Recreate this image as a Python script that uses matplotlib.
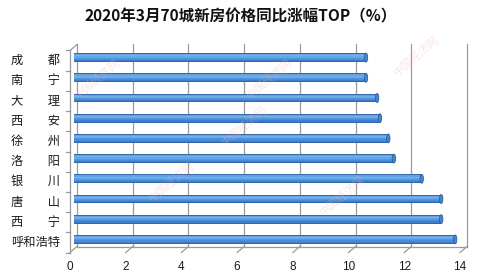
import matplotlib
matplotlib.use("Agg")
import matplotlib.pyplot as plt
import matplotlib.transforms as mtransforms
from matplotlib.patches import Ellipse
import numpy as np

plt.rcParams['font.family'] = ['Noto Sans CJK SC', 'DejaVu Sans']

cities = ["成　　都", "南　　宁", "大　　理", "西　　安", "徐　　州",
          "洛　　阳", "银　　川", "唐　　山", "西　　宁", "呼和浩特"]
values = [10.5, 10.5, 10.9, 11.0, 11.3, 11.5, 12.5, 13.2, 13.2, 13.7]
xticks = [0, 2, 4, 6, 8, 10, 12, 14]
title = "2020年3月70城新房价格同比涨幅TOP（%）"

W, H = 490, 280
fig = plt.figure(figsize=(W / 100, H / 100), dpi=100)
fig.patch.set_facecolor("white")

# front plane in pixels
x0, x1 = 70, 460
y_top, y_bot = 50.5, 252.5
ax = fig.add_axes([x0 / W, 1 - y_bot / H, (x1 - x0) / W, (y_bot - y_top) / H])
ax.set_xlim(0, 14)
n = len(cities)
ax.set_ylim(n - 0.5, -0.5)
for s in ax.spines.values():
    s.set_visible(False)
ax.set_xticks([])
ax.set_yticks([])
ax.patch.set_alpha(0)

dx, dy = 7, 6  # depth offset in pixels
back = mtransforms.offset_copy(ax.transData, fig=fig, x=dx, y=dy, units='dots')
mid = mtransforms.offset_copy(ax.transData, fig=fig, x=dx / 2, y=dy / 2, units='dots')

grid_c = "#9a9a9a"
ytop, ybot = -0.5, n - 0.5
for v in xticks:
    ax.plot([v, v], [ytop, ybot], color=grid_c, lw=0.9, transform=back, clip_on=False, zorder=1)
    ax.plot([v, v + dx / 27.86], [ybot, ybot - dy / 20.2], color=grid_c, lw=0.9,
            clip_on=False, zorder=1)
ax.plot([0, 14], [ybot, ybot], color=grid_c, lw=0.9, transform=back, clip_on=False, zorder=1)
ax.plot([0, 0], [ytop, ybot], color=grid_c, lw=0.9, clip_on=False, zorder=1)
ax.plot([0, dx / 27.86], [ytop, ytop - dy / 20.2], color=grid_c, lw=0.9, clip_on=False, zorder=1)
for k in range(n + 1):
    ax.plot([-4 / 27.86, 0], [k - 0.5, k - 0.5], color=grid_c, lw=0.9, clip_on=False, zorder=1)

# cylinders
bar_h = 0.44
shades = ["#3568a8", "#62a3e6", "#72b0ee", "#64a6ea", "#5598e0", "#4a8bd5", "#3f7ec6", "#3068ab"]
ns = len(shades)
ypos = np.arange(n)
for i, c in enumerate(shades):
    hh = bar_h / ns
    off = -bar_h / 2 + hh * (i + 0.5)
    ax.barh(ypos + off, values, height=hh * 1.05, color=c, linewidth=0,
            transform=mid, zorder=3)
for yi, v in zip(ypos, values):
    e = Ellipse((v, yi), width=0.12, height=bar_h, facecolor="#4686cf",
                edgecolor="#2d5f9c", lw=0.6, transform=mid, zorder=4)
    ax.add_patch(e)

for yi, name in zip(ypos, cities):
    ax.text(-0.36, yi, name, ha="right", va="center", fontsize=8.8, color="#1a1a1a",
            clip_on=False)

for v in xticks:
    ax.text(v, ybot + 0.72, str(v), ha="center", va="center", fontsize=8.5,
            family="Liberation Sans", color="#1a1a1a", clip_on=False)

fig.text(241 / W, 1 - 16 / H, title, ha="center", va="center", fontsize=11.2,
         fontweight="bold", color="#111111")

for (wx, wy) in [(0.2, 0.72), (0.55, 0.72), (0.85, 0.8), (0.35, 0.35), (0.7, 0.3), (0.5, 0.55)]:
    fig.text(wx, wy, "中国经济网", fontsize=8, color="#f2b5b5", alpha=0.35,
             rotation=40, ha="center", va="center", zorder=0)

fig.savefig("out.png", dpi=100, facecolor="white")
